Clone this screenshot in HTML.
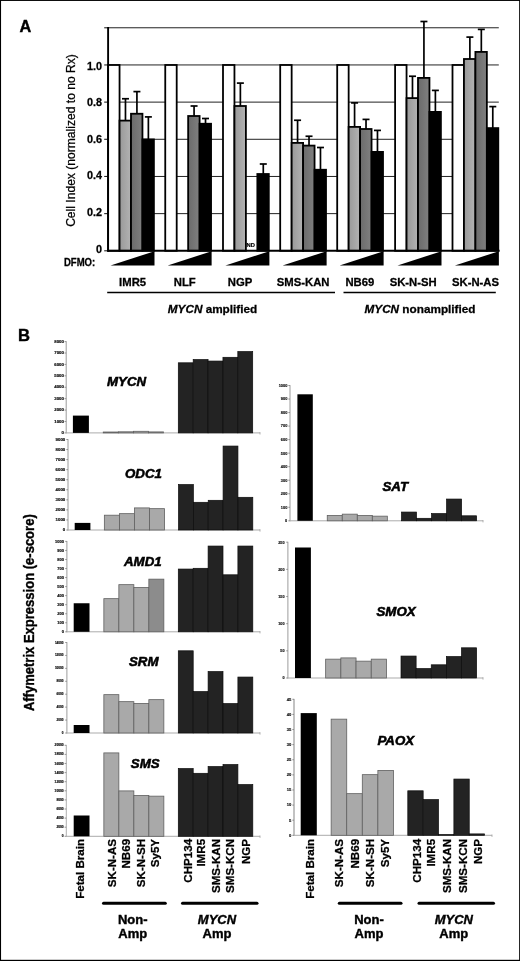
<!DOCTYPE html>
<html><head><meta charset="utf-8"><title>Figure</title>
<style>
html,body{margin:0;padding:0;background:#fff;}
svg{display:block;font-family:"Liberation Sans", Arial, Helvetica, sans-serif;}
</style></head>
<body>
<svg width="520" height="961" viewBox="0 0 520 961">
<rect x="0" y="0" width="520" height="961" fill="#fff"/>
<defs><linearGradient id="glg" x1="0" y1="0" x2="1" y2="0"><stop offset="0" stop-color="#999999"/><stop offset="1" stop-color="#b3b3b3"/></linearGradient><linearGradient id="gdg" x1="0" y1="0" x2="1" y2="0"><stop offset="0" stop-color="#6b6b6b"/><stop offset="1" stop-color="#808080"/></linearGradient></defs>
<line x1="108.10" y1="213.63" x2="498.80" y2="213.63" stroke="#222" stroke-width="1" />
<line x1="108.10" y1="176.46" x2="498.80" y2="176.46" stroke="#222" stroke-width="1" />
<line x1="108.10" y1="139.29" x2="498.80" y2="139.29" stroke="#222" stroke-width="1" />
<line x1="108.10" y1="102.12" x2="498.80" y2="102.12" stroke="#222" stroke-width="1" />
<line x1="108.10" y1="64.95" x2="498.80" y2="64.95" stroke="#222" stroke-width="1" />
<line x1="108.10" y1="27.78" x2="498.80" y2="27.78" stroke="#222" stroke-width="1" />
<line x1="104.20" y1="27.78" x2="108.10" y2="27.78" stroke="#222" stroke-width="1.1" />
<line x1="104.20" y1="250.80" x2="108.10" y2="250.80" stroke="#222" stroke-width="1.1" />
<text x="101.90" y="252.60" font-size="10.8" font-weight="bold" font-style="normal" text-anchor="end" fill="#000"  stroke="#000" stroke-width="0.28">0</text>
<line x1="104.20" y1="213.63" x2="108.10" y2="213.63" stroke="#222" stroke-width="1.1" />
<text x="101.90" y="215.70" font-size="10.8" font-weight="bold" font-style="normal" text-anchor="end" fill="#000"  stroke="#000" stroke-width="0.28">0.2</text>
<line x1="104.20" y1="176.46" x2="108.10" y2="176.46" stroke="#222" stroke-width="1.1" />
<text x="101.90" y="178.50" font-size="10.8" font-weight="bold" font-style="normal" text-anchor="end" fill="#000"  stroke="#000" stroke-width="0.28">0.4</text>
<line x1="104.20" y1="139.29" x2="108.10" y2="139.29" stroke="#222" stroke-width="1.1" />
<text x="101.90" y="143.10" font-size="10.8" font-weight="bold" font-style="normal" text-anchor="end" fill="#000"  stroke="#000" stroke-width="0.28">0.6</text>
<line x1="104.20" y1="102.12" x2="108.10" y2="102.12" stroke="#222" stroke-width="1.1" />
<text x="101.90" y="105.60" font-size="10.8" font-weight="bold" font-style="normal" text-anchor="end" fill="#000"  stroke="#000" stroke-width="0.28">0.8</text>
<line x1="104.20" y1="64.95" x2="108.10" y2="64.95" stroke="#222" stroke-width="1.1" />
<text x="101.90" y="70.25" font-size="10.8" font-weight="bold" font-style="normal" text-anchor="end" fill="#000"  stroke="#000" stroke-width="0.28">1.0</text>
<text x="246.60" y="246.70" font-size="5.8" font-weight="bold" font-style="normal" text-anchor="start" fill="#000"  stroke="#000" stroke-width="0.2">ND</text>
<rect x="108.10" y="65.00" width="11.45" height="185.80" fill="#fff" stroke="#000" stroke-width="1.8"/>
<rect x="119.55" y="120.60" width="11.45" height="130.20" fill="url(#glg)" stroke="#000" stroke-width="1.8"/>
<rect x="131.00" y="113.75" width="11.45" height="137.05" fill="url(#gdg)" stroke="#000" stroke-width="1.8"/>
<rect x="142.45" y="139.40" width="11.45" height="111.40" fill="#000" stroke="#000" stroke-width="1.8"/>
<line x1="125.47" y1="98.75" x2="125.47" y2="120.60" stroke="#000" stroke-width="1.7" />
<line x1="121.97" y1="98.75" x2="128.97" y2="98.75" stroke="#000" stroke-width="1.7" />
<line x1="136.92" y1="91.60" x2="136.92" y2="113.75" stroke="#000" stroke-width="1.7" />
<line x1="133.42" y1="91.60" x2="140.42" y2="91.60" stroke="#000" stroke-width="1.7" />
<line x1="148.37" y1="116.90" x2="148.37" y2="139.40" stroke="#000" stroke-width="1.7" />
<line x1="144.87" y1="116.90" x2="151.87" y2="116.90" stroke="#000" stroke-width="1.7" />
<rect x="165.25" y="65.00" width="11.45" height="185.80" fill="#fff" stroke="#000" stroke-width="1.8"/>
<rect x="188.15" y="116.00" width="11.45" height="134.80" fill="url(#gdg)" stroke="#000" stroke-width="1.8"/>
<rect x="199.60" y="123.75" width="11.45" height="127.05" fill="#000" stroke="#000" stroke-width="1.8"/>
<line x1="194.07" y1="106.00" x2="194.07" y2="116.00" stroke="#000" stroke-width="1.7" />
<line x1="190.57" y1="106.00" x2="197.57" y2="106.00" stroke="#000" stroke-width="1.7" />
<line x1="205.52" y1="118.50" x2="205.52" y2="123.75" stroke="#000" stroke-width="1.7" />
<line x1="202.02" y1="118.50" x2="209.02" y2="118.50" stroke="#000" stroke-width="1.7" />
<rect x="223.00" y="65.00" width="11.45" height="185.80" fill="#fff" stroke="#000" stroke-width="1.8"/>
<rect x="234.45" y="106.00" width="11.45" height="144.80" fill="url(#glg)" stroke="#000" stroke-width="1.8"/>
<rect x="257.35" y="174.00" width="11.45" height="76.80" fill="#000" stroke="#000" stroke-width="1.8"/>
<line x1="240.37" y1="83.10" x2="240.37" y2="106.00" stroke="#000" stroke-width="1.7" />
<line x1="236.87" y1="83.10" x2="243.87" y2="83.10" stroke="#000" stroke-width="1.7" />
<line x1="263.28" y1="164.00" x2="263.28" y2="174.00" stroke="#000" stroke-width="1.7" />
<line x1="259.78" y1="164.00" x2="266.78" y2="164.00" stroke="#000" stroke-width="1.7" />
<rect x="280.20" y="65.00" width="11.45" height="185.80" fill="#fff" stroke="#000" stroke-width="1.8"/>
<rect x="291.65" y="142.90" width="11.45" height="107.90" fill="url(#glg)" stroke="#000" stroke-width="1.8"/>
<rect x="303.10" y="145.60" width="11.45" height="105.20" fill="url(#gdg)" stroke="#000" stroke-width="1.8"/>
<rect x="314.55" y="169.75" width="11.45" height="81.05" fill="#000" stroke="#000" stroke-width="1.8"/>
<line x1="297.57" y1="120.25" x2="297.57" y2="142.90" stroke="#000" stroke-width="1.7" />
<line x1="294.07" y1="120.25" x2="301.07" y2="120.25" stroke="#000" stroke-width="1.7" />
<line x1="309.02" y1="136.25" x2="309.02" y2="145.60" stroke="#000" stroke-width="1.7" />
<line x1="305.52" y1="136.25" x2="312.52" y2="136.25" stroke="#000" stroke-width="1.7" />
<line x1="320.47" y1="147.50" x2="320.47" y2="169.75" stroke="#000" stroke-width="1.7" />
<line x1="316.97" y1="147.50" x2="323.97" y2="147.50" stroke="#000" stroke-width="1.7" />
<rect x="337.20" y="65.00" width="11.45" height="185.80" fill="#fff" stroke="#000" stroke-width="1.8"/>
<rect x="348.65" y="126.90" width="11.45" height="123.90" fill="url(#glg)" stroke="#000" stroke-width="1.8"/>
<rect x="360.10" y="129.00" width="11.45" height="121.80" fill="url(#gdg)" stroke="#000" stroke-width="1.8"/>
<rect x="371.55" y="151.90" width="11.45" height="98.90" fill="#000" stroke="#000" stroke-width="1.8"/>
<line x1="354.57" y1="102.90" x2="354.57" y2="126.90" stroke="#000" stroke-width="1.7" />
<line x1="351.07" y1="102.90" x2="358.07" y2="102.90" stroke="#000" stroke-width="1.7" />
<line x1="366.02" y1="119.40" x2="366.02" y2="129.00" stroke="#000" stroke-width="1.7" />
<line x1="362.52" y1="119.40" x2="369.52" y2="119.40" stroke="#000" stroke-width="1.7" />
<line x1="377.47" y1="130.40" x2="377.47" y2="151.90" stroke="#000" stroke-width="1.7" />
<line x1="373.97" y1="130.40" x2="380.97" y2="130.40" stroke="#000" stroke-width="1.7" />
<rect x="395.10" y="65.00" width="11.45" height="185.80" fill="#fff" stroke="#000" stroke-width="1.8"/>
<rect x="406.55" y="98.10" width="11.45" height="152.70" fill="url(#glg)" stroke="#000" stroke-width="1.8"/>
<rect x="418.00" y="77.90" width="11.45" height="172.90" fill="url(#gdg)" stroke="#000" stroke-width="1.8"/>
<rect x="429.45" y="111.90" width="11.45" height="138.90" fill="#000" stroke="#000" stroke-width="1.8"/>
<line x1="412.48" y1="76.25" x2="412.48" y2="98.10" stroke="#000" stroke-width="1.7" />
<line x1="408.98" y1="76.25" x2="415.98" y2="76.25" stroke="#000" stroke-width="1.7" />
<line x1="423.93" y1="21.50" x2="423.93" y2="77.90" stroke="#000" stroke-width="1.7" />
<line x1="420.43" y1="21.50" x2="427.43" y2="21.50" stroke="#000" stroke-width="1.7" />
<line x1="435.38" y1="90.40" x2="435.38" y2="111.90" stroke="#000" stroke-width="1.7" />
<line x1="431.88" y1="90.40" x2="438.88" y2="90.40" stroke="#000" stroke-width="1.7" />
<rect x="452.50" y="65.00" width="11.45" height="185.80" fill="#fff" stroke="#000" stroke-width="1.8"/>
<rect x="463.95" y="59.00" width="11.45" height="191.80" fill="url(#glg)" stroke="#000" stroke-width="1.8"/>
<rect x="475.40" y="51.90" width="11.45" height="198.90" fill="url(#gdg)" stroke="#000" stroke-width="1.8"/>
<rect x="486.85" y="128.10" width="11.45" height="122.70" fill="#000" stroke="#000" stroke-width="1.8"/>
<line x1="469.88" y1="37.10" x2="469.88" y2="59.00" stroke="#000" stroke-width="1.7" />
<line x1="466.38" y1="37.10" x2="473.38" y2="37.10" stroke="#000" stroke-width="1.7" />
<line x1="481.32" y1="29.40" x2="481.32" y2="51.90" stroke="#000" stroke-width="1.7" />
<line x1="477.82" y1="29.40" x2="484.82" y2="29.40" stroke="#000" stroke-width="1.7" />
<line x1="492.78" y1="106.60" x2="492.78" y2="128.10" stroke="#000" stroke-width="1.7" />
<line x1="489.28" y1="106.60" x2="496.28" y2="106.60" stroke="#000" stroke-width="1.7" />
<line x1="108.10" y1="27.00" x2="108.10" y2="251.70" stroke="#000" stroke-width="1.9" />
<line x1="107.60" y1="250.80" x2="499.60" y2="250.80" stroke="#000" stroke-width="1.9" />
<polygon points="110.50,265.6 154.50,251.2 154.50,265.6" fill="#000"/>
<polygon points="167.65,265.6 211.65,251.2 211.65,265.6" fill="#000"/>
<polygon points="225.40,265.6 269.40,251.2 269.40,265.6" fill="#000"/>
<polygon points="282.60,265.6 326.60,251.2 326.60,265.6" fill="#000"/>
<polygon points="339.60,265.6 383.60,251.2 383.60,265.6" fill="#000"/>
<polygon points="397.50,265.6 441.50,251.2 441.50,265.6" fill="#000"/>
<polygon points="454.90,265.6 498.90,251.2 498.90,265.6" fill="#000"/>
<text x="64.00" y="265.50" font-size="10.3" font-weight="bold" font-style="normal" text-anchor="start" fill="#000" textLength="31.2" lengthAdjust="spacingAndGlyphs" stroke="#000" stroke-width="0.28">DFMO:</text>
<text x="132.60" y="286.40" font-size="11.3" font-weight="bold" font-style="normal" text-anchor="middle" fill="#000"  stroke="#000" stroke-width="0.28">IMR5</text>
<text x="184.75" y="286.40" font-size="11.3" font-weight="bold" font-style="normal" text-anchor="middle" fill="#000"  stroke="#000" stroke-width="0.28">NLF</text>
<text x="240.00" y="286.40" font-size="11.3" font-weight="bold" font-style="normal" text-anchor="middle" fill="#000"  stroke="#000" stroke-width="0.28">NGP</text>
<text x="303.10" y="286.40" font-size="11.3" font-weight="bold" font-style="normal" text-anchor="middle" fill="#000"  stroke="#000" stroke-width="0.28">SMS-KAN</text>
<text x="359.90" y="286.40" font-size="11.3" font-weight="bold" font-style="normal" text-anchor="middle" fill="#000"  stroke="#000" stroke-width="0.28">NB69</text>
<text x="413.20" y="286.40" font-size="11.3" font-weight="bold" font-style="normal" text-anchor="middle" fill="#000"  stroke="#000" stroke-width="0.28">SK-N-SH</text>
<text x="475.50" y="286.40" font-size="11.3" font-weight="bold" font-style="normal" text-anchor="middle" fill="#000"  stroke="#000" stroke-width="0.28">SK-N-AS</text>
<line x1="107.20" y1="292.60" x2="335.00" y2="292.60" stroke="#000" stroke-width="1.5" />
<line x1="343.50" y1="292.60" x2="495.80" y2="292.60" stroke="#000" stroke-width="1.5" />
<text x="212.5" y="313.3" font-size="11.75" font-weight="bold" stroke="#000" stroke-width="0.28" text-anchor="middle"><tspan font-style="italic">MYCN</tspan> amplified</text>
<text x="420" y="313.3" font-size="11.75" font-weight="bold" stroke="#000" stroke-width="0.28" text-anchor="middle"><tspan font-style="italic">MYCN</tspan> nonamplified</text>
<text x="74.80" y="140.50" font-size="12.1" font-weight="normal" font-style="normal" text-anchor="middle" fill="#000" transform="rotate(-90 74.80 140.50)"  stroke="#000" stroke-width="0.25">Cell Index (normalized to no Rx)</text>
<text x="19.60" y="32.00" font-size="16.3" font-weight="bold" font-style="normal" text-anchor="start" fill="#000"  stroke="#000" stroke-width="0.4">A</text>
<text x="18.00" y="340.50" font-size="16.6" font-weight="bold" font-style="normal" text-anchor="start" fill="#000"  stroke="#000" stroke-width="0.4">B</text>
<text transform="translate(33.8,612.7) rotate(-90) scale(0.945,1)" font-size="13.8" font-weight="bold" text-anchor="middle" stroke="#000" stroke-width="0.35">Affymetrix Expression (e-score)</text>
<line x1="66.20" y1="341.20" x2="66.20" y2="433.40" stroke="#9c9c9c" stroke-width="1.0" />
<line x1="66.20" y1="432.90" x2="260.00" y2="432.90" stroke="#ababab" stroke-width="1" />
<line x1="260.00" y1="432.10" x2="260.00" y2="434.50" stroke="#a0a0a0" stroke-width="0.8" />
<line x1="64.50" y1="432.90" x2="66.20" y2="432.90" stroke="#808080" stroke-width="0.8" />
<text x="63.90" y="434.05" font-size="3.2" font-weight="bold" font-style="normal" text-anchor="end" fill="#111" textLength="2.40" lengthAdjust="spacingAndGlyphs" stroke="#111" stroke-width="0.15">0</text>
<line x1="64.50" y1="421.49" x2="66.20" y2="421.49" stroke="#808080" stroke-width="0.8" />
<text x="63.90" y="422.64" font-size="3.2" font-weight="bold" font-style="normal" text-anchor="end" fill="#111" textLength="9.60" lengthAdjust="spacingAndGlyphs" stroke="#111" stroke-width="0.15">1000</text>
<line x1="64.50" y1="410.07" x2="66.20" y2="410.07" stroke="#808080" stroke-width="0.8" />
<text x="63.90" y="411.23" font-size="3.2" font-weight="bold" font-style="normal" text-anchor="end" fill="#111" textLength="9.60" lengthAdjust="spacingAndGlyphs" stroke="#111" stroke-width="0.15">2000</text>
<line x1="64.50" y1="398.66" x2="66.20" y2="398.66" stroke="#808080" stroke-width="0.8" />
<text x="63.90" y="399.81" font-size="3.2" font-weight="bold" font-style="normal" text-anchor="end" fill="#111" textLength="9.60" lengthAdjust="spacingAndGlyphs" stroke="#111" stroke-width="0.15">3000</text>
<line x1="64.50" y1="387.25" x2="66.20" y2="387.25" stroke="#808080" stroke-width="0.8" />
<text x="63.90" y="388.40" font-size="3.2" font-weight="bold" font-style="normal" text-anchor="end" fill="#111" textLength="9.60" lengthAdjust="spacingAndGlyphs" stroke="#111" stroke-width="0.15">4000</text>
<line x1="64.50" y1="375.84" x2="66.20" y2="375.84" stroke="#808080" stroke-width="0.8" />
<text x="63.90" y="376.99" font-size="3.2" font-weight="bold" font-style="normal" text-anchor="end" fill="#111" textLength="9.60" lengthAdjust="spacingAndGlyphs" stroke="#111" stroke-width="0.15">5000</text>
<line x1="64.50" y1="364.43" x2="66.20" y2="364.43" stroke="#808080" stroke-width="0.8" />
<text x="63.90" y="365.58" font-size="3.2" font-weight="bold" font-style="normal" text-anchor="end" fill="#111" textLength="9.60" lengthAdjust="spacingAndGlyphs" stroke="#111" stroke-width="0.15">6000</text>
<line x1="64.50" y1="353.01" x2="66.20" y2="353.01" stroke="#808080" stroke-width="0.8" />
<text x="63.90" y="354.16" font-size="3.2" font-weight="bold" font-style="normal" text-anchor="end" fill="#111" textLength="9.60" lengthAdjust="spacingAndGlyphs" stroke="#111" stroke-width="0.15">7000</text>
<line x1="64.50" y1="341.60" x2="66.20" y2="341.60" stroke="#808080" stroke-width="0.8" />
<text x="63.90" y="342.75" font-size="3.2" font-weight="bold" font-style="normal" text-anchor="end" fill="#111" textLength="9.60" lengthAdjust="spacingAndGlyphs" stroke="#111" stroke-width="0.15">8000</text>
<rect x="72.90" y="415.60" width="16.00" height="17.30" fill="#000"/>
<rect x="103.25" y="432.00" width="15.08" height="0.90" fill="#a9a9a9" stroke="#606060" stroke-width="0.8"/>
<rect x="118.33" y="431.80" width="15.08" height="1.10" fill="#a9a9a9" stroke="#606060" stroke-width="0.8"/>
<rect x="133.40" y="431.30" width="15.08" height="1.60" fill="#a9a9a9" stroke="#606060" stroke-width="0.8"/>
<rect x="148.47" y="431.90" width="15.08" height="1.00" fill="#a9a9a9" stroke="#606060" stroke-width="0.8"/>
<rect x="178.30" y="362.80" width="14.88" height="70.10" fill="#232323" stroke="#0c0c0c" stroke-width="0.7"/>
<rect x="193.18" y="359.55" width="14.88" height="73.35" fill="#232323" stroke="#0c0c0c" stroke-width="0.7"/>
<rect x="208.06" y="361.05" width="14.88" height="71.85" fill="#232323" stroke="#0c0c0c" stroke-width="0.7"/>
<rect x="222.94" y="357.30" width="14.88" height="75.60" fill="#232323" stroke="#0c0c0c" stroke-width="0.7"/>
<rect x="237.82" y="351.55" width="14.88" height="81.35" fill="#232323" stroke="#0c0c0c" stroke-width="0.7"/>
<text x="107.00" y="386.30" font-size="13.3" font-weight="bold" font-style="italic" text-anchor="start" fill="#000"  stroke="#000" stroke-width="0.55">MYCN</text>
<line x1="68.00" y1="439.10" x2="68.00" y2="530.50" stroke="#9c9c9c" stroke-width="1.0" />
<line x1="68.00" y1="530.00" x2="260.00" y2="530.00" stroke="#ababab" stroke-width="1" />
<line x1="260.00" y1="529.20" x2="260.00" y2="531.60" stroke="#a0a0a0" stroke-width="0.8" />
<line x1="66.30" y1="530.00" x2="68.00" y2="530.00" stroke="#808080" stroke-width="0.8" />
<text x="65.20" y="531.15" font-size="3.2" font-weight="bold" font-style="normal" text-anchor="end" fill="#111" textLength="2.40" lengthAdjust="spacingAndGlyphs" stroke="#111" stroke-width="0.15">0</text>
<line x1="66.30" y1="519.94" x2="68.00" y2="519.94" stroke="#808080" stroke-width="0.8" />
<text x="65.20" y="521.10" font-size="3.2" font-weight="bold" font-style="normal" text-anchor="end" fill="#111" textLength="9.60" lengthAdjust="spacingAndGlyphs" stroke="#111" stroke-width="0.15">1000</text>
<line x1="66.30" y1="509.89" x2="68.00" y2="509.89" stroke="#808080" stroke-width="0.8" />
<text x="65.20" y="511.04" font-size="3.2" font-weight="bold" font-style="normal" text-anchor="end" fill="#111" textLength="9.60" lengthAdjust="spacingAndGlyphs" stroke="#111" stroke-width="0.15">2000</text>
<line x1="66.30" y1="499.83" x2="68.00" y2="499.83" stroke="#808080" stroke-width="0.8" />
<text x="65.20" y="500.99" font-size="3.2" font-weight="bold" font-style="normal" text-anchor="end" fill="#111" textLength="9.60" lengthAdjust="spacingAndGlyphs" stroke="#111" stroke-width="0.15">3000</text>
<line x1="66.30" y1="489.78" x2="68.00" y2="489.78" stroke="#808080" stroke-width="0.8" />
<text x="65.20" y="490.93" font-size="3.2" font-weight="bold" font-style="normal" text-anchor="end" fill="#111" textLength="9.60" lengthAdjust="spacingAndGlyphs" stroke="#111" stroke-width="0.15">4000</text>
<line x1="66.30" y1="479.72" x2="68.00" y2="479.72" stroke="#808080" stroke-width="0.8" />
<text x="65.20" y="480.87" font-size="3.2" font-weight="bold" font-style="normal" text-anchor="end" fill="#111" textLength="9.60" lengthAdjust="spacingAndGlyphs" stroke="#111" stroke-width="0.15">5000</text>
<line x1="66.30" y1="469.67" x2="68.00" y2="469.67" stroke="#808080" stroke-width="0.8" />
<text x="65.20" y="470.82" font-size="3.2" font-weight="bold" font-style="normal" text-anchor="end" fill="#111" textLength="9.60" lengthAdjust="spacingAndGlyphs" stroke="#111" stroke-width="0.15">6000</text>
<line x1="66.30" y1="459.61" x2="68.00" y2="459.61" stroke="#808080" stroke-width="0.8" />
<text x="65.20" y="460.76" font-size="3.2" font-weight="bold" font-style="normal" text-anchor="end" fill="#111" textLength="9.60" lengthAdjust="spacingAndGlyphs" stroke="#111" stroke-width="0.15">7000</text>
<line x1="66.30" y1="449.56" x2="68.00" y2="449.56" stroke="#808080" stroke-width="0.8" />
<text x="65.20" y="450.71" font-size="3.2" font-weight="bold" font-style="normal" text-anchor="end" fill="#111" textLength="9.60" lengthAdjust="spacingAndGlyphs" stroke="#111" stroke-width="0.15">8000</text>
<line x1="66.30" y1="439.50" x2="68.00" y2="439.50" stroke="#808080" stroke-width="0.8" />
<text x="65.20" y="440.65" font-size="3.2" font-weight="bold" font-style="normal" text-anchor="end" fill="#111" textLength="9.60" lengthAdjust="spacingAndGlyphs" stroke="#111" stroke-width="0.15">9000</text>
<rect x="74.70" y="522.90" width="15.70" height="7.10" fill="#000"/>
<rect x="104.35" y="515.20" width="15.05" height="14.80" fill="#a9a9a9" stroke="#606060" stroke-width="0.8"/>
<rect x="119.40" y="513.65" width="15.05" height="16.35" fill="#a9a9a9" stroke="#606060" stroke-width="0.8"/>
<rect x="134.45" y="507.90" width="15.05" height="22.10" fill="#a9a9a9" stroke="#606060" stroke-width="0.8"/>
<rect x="149.50" y="508.65" width="15.05" height="21.35" fill="#a9a9a9" stroke="#606060" stroke-width="0.8"/>
<rect x="178.50" y="484.55" width="14.86" height="45.45" fill="#232323" stroke="#0c0c0c" stroke-width="0.7"/>
<rect x="193.36" y="502.30" width="14.86" height="27.70" fill="#232323" stroke="#0c0c0c" stroke-width="0.7"/>
<rect x="208.22" y="500.30" width="14.86" height="29.70" fill="#232323" stroke="#0c0c0c" stroke-width="0.7"/>
<rect x="223.08" y="446.05" width="14.86" height="83.95" fill="#232323" stroke="#0c0c0c" stroke-width="0.7"/>
<rect x="237.94" y="497.30" width="14.86" height="32.70" fill="#232323" stroke="#0c0c0c" stroke-width="0.7"/>
<text x="125.00" y="478.00" font-size="13.3" font-weight="bold" font-style="italic" text-anchor="start" fill="#000"  stroke="#000" stroke-width="0.55">ODC1</text>
<line x1="66.90" y1="541.00" x2="66.90" y2="632.30" stroke="#9c9c9c" stroke-width="1.0" />
<line x1="66.90" y1="631.80" x2="260.00" y2="631.80" stroke="#ababab" stroke-width="1" />
<line x1="260.00" y1="631.00" x2="260.00" y2="633.40" stroke="#a0a0a0" stroke-width="0.8" />
<line x1="65.20" y1="631.80" x2="66.90" y2="631.80" stroke="#808080" stroke-width="0.8" />
<text x="63.90" y="632.92" font-size="3.1" font-weight="bold" font-style="normal" text-anchor="end" fill="#111" textLength="2.20" lengthAdjust="spacingAndGlyphs" stroke="#111" stroke-width="0.15">0</text>
<line x1="65.20" y1="622.76" x2="66.90" y2="622.76" stroke="#808080" stroke-width="0.8" />
<text x="63.90" y="623.88" font-size="3.1" font-weight="bold" font-style="normal" text-anchor="end" fill="#111" textLength="6.60" lengthAdjust="spacingAndGlyphs" stroke="#111" stroke-width="0.15">100</text>
<line x1="65.20" y1="613.72" x2="66.90" y2="613.72" stroke="#808080" stroke-width="0.8" />
<text x="63.90" y="614.84" font-size="3.1" font-weight="bold" font-style="normal" text-anchor="end" fill="#111" textLength="6.60" lengthAdjust="spacingAndGlyphs" stroke="#111" stroke-width="0.15">200</text>
<line x1="65.20" y1="604.68" x2="66.90" y2="604.68" stroke="#808080" stroke-width="0.8" />
<text x="63.90" y="605.80" font-size="3.1" font-weight="bold" font-style="normal" text-anchor="end" fill="#111" textLength="6.60" lengthAdjust="spacingAndGlyphs" stroke="#111" stroke-width="0.15">300</text>
<line x1="65.20" y1="595.64" x2="66.90" y2="595.64" stroke="#808080" stroke-width="0.8" />
<text x="63.90" y="596.76" font-size="3.1" font-weight="bold" font-style="normal" text-anchor="end" fill="#111" textLength="6.60" lengthAdjust="spacingAndGlyphs" stroke="#111" stroke-width="0.15">400</text>
<line x1="65.20" y1="586.60" x2="66.90" y2="586.60" stroke="#808080" stroke-width="0.8" />
<text x="63.90" y="587.72" font-size="3.1" font-weight="bold" font-style="normal" text-anchor="end" fill="#111" textLength="6.60" lengthAdjust="spacingAndGlyphs" stroke="#111" stroke-width="0.15">500</text>
<line x1="65.20" y1="577.56" x2="66.90" y2="577.56" stroke="#808080" stroke-width="0.8" />
<text x="63.90" y="578.68" font-size="3.1" font-weight="bold" font-style="normal" text-anchor="end" fill="#111" textLength="6.60" lengthAdjust="spacingAndGlyphs" stroke="#111" stroke-width="0.15">600</text>
<line x1="65.20" y1="568.52" x2="66.90" y2="568.52" stroke="#808080" stroke-width="0.8" />
<text x="63.90" y="569.64" font-size="3.1" font-weight="bold" font-style="normal" text-anchor="end" fill="#111" textLength="6.60" lengthAdjust="spacingAndGlyphs" stroke="#111" stroke-width="0.15">700</text>
<line x1="65.20" y1="559.48" x2="66.90" y2="559.48" stroke="#808080" stroke-width="0.8" />
<text x="63.90" y="560.60" font-size="3.1" font-weight="bold" font-style="normal" text-anchor="end" fill="#111" textLength="6.60" lengthAdjust="spacingAndGlyphs" stroke="#111" stroke-width="0.15">800</text>
<line x1="65.20" y1="550.44" x2="66.90" y2="550.44" stroke="#808080" stroke-width="0.8" />
<text x="63.90" y="551.56" font-size="3.1" font-weight="bold" font-style="normal" text-anchor="end" fill="#111" textLength="6.60" lengthAdjust="spacingAndGlyphs" stroke="#111" stroke-width="0.15">900</text>
<line x1="65.20" y1="541.40" x2="66.90" y2="541.40" stroke="#808080" stroke-width="0.8" />
<text x="63.90" y="542.52" font-size="3.1" font-weight="bold" font-style="normal" text-anchor="end" fill="#111" textLength="8.80" lengthAdjust="spacingAndGlyphs" stroke="#111" stroke-width="0.15">1000</text>
<rect x="73.70" y="603.25" width="15.80" height="28.55" fill="#000"/>
<rect x="103.85" y="598.65" width="15.00" height="33.15" fill="#a9a9a9" stroke="#606060" stroke-width="0.8"/>
<rect x="118.85" y="584.65" width="15.00" height="47.15" fill="#a9a9a9" stroke="#606060" stroke-width="0.8"/>
<rect x="133.85" y="587.40" width="15.00" height="44.40" fill="#a9a9a9" stroke="#606060" stroke-width="0.8"/>
<rect x="148.85" y="579.15" width="15.00" height="52.65" fill="#8c8c8c" stroke="#606060" stroke-width="0.8"/>
<rect x="178.30" y="569.05" width="14.90" height="62.75" fill="#232323" stroke="#0c0c0c" stroke-width="0.7"/>
<rect x="193.20" y="568.30" width="14.90" height="63.50" fill="#232323" stroke="#0c0c0c" stroke-width="0.7"/>
<rect x="208.10" y="546.05" width="14.90" height="85.75" fill="#232323" stroke="#0c0c0c" stroke-width="0.7"/>
<rect x="223.00" y="574.80" width="14.90" height="57.00" fill="#232323" stroke="#0c0c0c" stroke-width="0.7"/>
<rect x="237.90" y="546.05" width="14.90" height="85.75" fill="#232323" stroke="#0c0c0c" stroke-width="0.7"/>
<text x="124.00" y="565.60" font-size="13.3" font-weight="bold" font-style="italic" text-anchor="start" fill="#000"  stroke="#000" stroke-width="0.55">AMD1</text>
<line x1="66.90" y1="642.10" x2="66.90" y2="733.50" stroke="#9c9c9c" stroke-width="1.0" />
<line x1="66.90" y1="733.00" x2="260.00" y2="733.00" stroke="#ababab" stroke-width="1" />
<line x1="260.00" y1="732.20" x2="260.00" y2="734.60" stroke="#a0a0a0" stroke-width="0.8" />
<line x1="65.20" y1="733.00" x2="66.90" y2="733.00" stroke="#808080" stroke-width="0.8" />
<text x="63.50" y="734.01" font-size="2.8" font-weight="bold" font-style="normal" text-anchor="end" fill="#111" textLength="1.72" lengthAdjust="spacingAndGlyphs" stroke="#111" stroke-width="0.15">0</text>
<line x1="65.20" y1="720.07" x2="66.90" y2="720.07" stroke="#808080" stroke-width="0.8" />
<text x="63.50" y="721.08" font-size="2.8" font-weight="bold" font-style="normal" text-anchor="end" fill="#111" textLength="6.88" lengthAdjust="spacingAndGlyphs" stroke="#111" stroke-width="0.15">2000</text>
<line x1="65.20" y1="707.14" x2="66.90" y2="707.14" stroke="#808080" stroke-width="0.8" />
<text x="63.50" y="708.15" font-size="2.8" font-weight="bold" font-style="normal" text-anchor="end" fill="#111" textLength="6.88" lengthAdjust="spacingAndGlyphs" stroke="#111" stroke-width="0.15">4000</text>
<line x1="65.20" y1="694.21" x2="66.90" y2="694.21" stroke="#808080" stroke-width="0.8" />
<text x="63.50" y="695.22" font-size="2.8" font-weight="bold" font-style="normal" text-anchor="end" fill="#111" textLength="6.88" lengthAdjust="spacingAndGlyphs" stroke="#111" stroke-width="0.15">6000</text>
<line x1="65.20" y1="681.29" x2="66.90" y2="681.29" stroke="#808080" stroke-width="0.8" />
<text x="63.50" y="682.29" font-size="2.8" font-weight="bold" font-style="normal" text-anchor="end" fill="#111" textLength="6.88" lengthAdjust="spacingAndGlyphs" stroke="#111" stroke-width="0.15">8000</text>
<line x1="65.20" y1="668.36" x2="66.90" y2="668.36" stroke="#808080" stroke-width="0.8" />
<text x="63.50" y="669.37" font-size="2.8" font-weight="bold" font-style="normal" text-anchor="end" fill="#111" textLength="8.60" lengthAdjust="spacingAndGlyphs" stroke="#111" stroke-width="0.15">10000</text>
<line x1="65.20" y1="655.43" x2="66.90" y2="655.43" stroke="#808080" stroke-width="0.8" />
<text x="63.50" y="656.44" font-size="2.8" font-weight="bold" font-style="normal" text-anchor="end" fill="#111" textLength="8.60" lengthAdjust="spacingAndGlyphs" stroke="#111" stroke-width="0.15">12000</text>
<line x1="65.20" y1="642.50" x2="66.90" y2="642.50" stroke="#808080" stroke-width="0.8" />
<text x="63.50" y="643.51" font-size="2.8" font-weight="bold" font-style="normal" text-anchor="end" fill="#111" textLength="8.60" lengthAdjust="spacingAndGlyphs" stroke="#111" stroke-width="0.15">14000</text>
<rect x="73.70" y="725.00" width="15.80" height="8.00" fill="#000"/>
<rect x="103.85" y="694.65" width="15.00" height="38.35" fill="#a9a9a9" stroke="#606060" stroke-width="0.8"/>
<rect x="118.85" y="701.65" width="15.00" height="31.35" fill="#a9a9a9" stroke="#606060" stroke-width="0.8"/>
<rect x="133.85" y="703.40" width="15.00" height="29.60" fill="#a9a9a9" stroke="#606060" stroke-width="0.8"/>
<rect x="148.85" y="699.65" width="15.00" height="33.35" fill="#a9a9a9" stroke="#606060" stroke-width="0.8"/>
<rect x="178.30" y="650.80" width="14.90" height="82.20" fill="#232323" stroke="#0c0c0c" stroke-width="0.7"/>
<rect x="193.20" y="691.55" width="14.90" height="41.45" fill="#232323" stroke="#0c0c0c" stroke-width="0.7"/>
<rect x="208.10" y="671.55" width="14.90" height="61.45" fill="#232323" stroke="#0c0c0c" stroke-width="0.7"/>
<rect x="223.00" y="703.55" width="14.90" height="29.45" fill="#232323" stroke="#0c0c0c" stroke-width="0.7"/>
<rect x="237.90" y="677.05" width="14.90" height="55.95" fill="#232323" stroke="#0c0c0c" stroke-width="0.7"/>
<text x="129.00" y="665.60" font-size="13.3" font-weight="bold" font-style="italic" text-anchor="start" fill="#000"  stroke="#000" stroke-width="0.55">SRM</text>
<line x1="66.30" y1="744.90" x2="66.30" y2="836.80" stroke="#b0b0b0" stroke-width="1.0" />
<line x1="66.30" y1="836.30" x2="260.00" y2="836.30" stroke="#ababab" stroke-width="1" />
<line x1="260.00" y1="835.50" x2="260.00" y2="837.90" stroke="#a0a0a0" stroke-width="0.8" />
<line x1="64.60" y1="836.30" x2="66.30" y2="836.30" stroke="#808080" stroke-width="0.8" />
<text x="63.60" y="837.31" font-size="2.8" font-weight="bold" font-style="normal" text-anchor="end" fill="#111" textLength="1.80" lengthAdjust="spacingAndGlyphs" stroke="#111" stroke-width="0.15">0</text>
<line x1="64.60" y1="827.20" x2="66.30" y2="827.20" stroke="#808080" stroke-width="0.8" />
<text x="63.60" y="828.21" font-size="2.8" font-weight="bold" font-style="normal" text-anchor="end" fill="#111" textLength="7.20" lengthAdjust="spacingAndGlyphs" stroke="#111" stroke-width="0.15">2000</text>
<line x1="64.60" y1="818.10" x2="66.30" y2="818.10" stroke="#808080" stroke-width="0.8" />
<text x="63.60" y="819.11" font-size="2.8" font-weight="bold" font-style="normal" text-anchor="end" fill="#111" textLength="7.20" lengthAdjust="spacingAndGlyphs" stroke="#111" stroke-width="0.15">4000</text>
<line x1="64.60" y1="809.00" x2="66.30" y2="809.00" stroke="#808080" stroke-width="0.8" />
<text x="63.60" y="810.01" font-size="2.8" font-weight="bold" font-style="normal" text-anchor="end" fill="#111" textLength="7.20" lengthAdjust="spacingAndGlyphs" stroke="#111" stroke-width="0.15">6000</text>
<line x1="64.60" y1="799.90" x2="66.30" y2="799.90" stroke="#808080" stroke-width="0.8" />
<text x="63.60" y="800.91" font-size="2.8" font-weight="bold" font-style="normal" text-anchor="end" fill="#111" textLength="7.20" lengthAdjust="spacingAndGlyphs" stroke="#111" stroke-width="0.15">8000</text>
<line x1="64.60" y1="790.80" x2="66.30" y2="790.80" stroke="#808080" stroke-width="0.8" />
<text x="63.60" y="791.81" font-size="2.8" font-weight="bold" font-style="normal" text-anchor="end" fill="#111" textLength="9.00" lengthAdjust="spacingAndGlyphs" stroke="#111" stroke-width="0.15">10000</text>
<line x1="64.60" y1="781.70" x2="66.30" y2="781.70" stroke="#808080" stroke-width="0.8" />
<text x="63.60" y="782.71" font-size="2.8" font-weight="bold" font-style="normal" text-anchor="end" fill="#111" textLength="9.00" lengthAdjust="spacingAndGlyphs" stroke="#111" stroke-width="0.15">12000</text>
<line x1="64.60" y1="772.60" x2="66.30" y2="772.60" stroke="#808080" stroke-width="0.8" />
<text x="63.60" y="773.61" font-size="2.8" font-weight="bold" font-style="normal" text-anchor="end" fill="#111" textLength="9.00" lengthAdjust="spacingAndGlyphs" stroke="#111" stroke-width="0.15">14000</text>
<line x1="64.60" y1="763.50" x2="66.30" y2="763.50" stroke="#808080" stroke-width="0.8" />
<text x="63.60" y="764.51" font-size="2.8" font-weight="bold" font-style="normal" text-anchor="end" fill="#111" textLength="9.00" lengthAdjust="spacingAndGlyphs" stroke="#111" stroke-width="0.15">16000</text>
<line x1="64.60" y1="754.40" x2="66.30" y2="754.40" stroke="#808080" stroke-width="0.8" />
<text x="63.60" y="755.41" font-size="2.8" font-weight="bold" font-style="normal" text-anchor="end" fill="#111" textLength="9.00" lengthAdjust="spacingAndGlyphs" stroke="#111" stroke-width="0.15">18000</text>
<line x1="64.60" y1="745.30" x2="66.30" y2="745.30" stroke="#808080" stroke-width="0.8" />
<text x="63.60" y="746.31" font-size="2.8" font-weight="bold" font-style="normal" text-anchor="end" fill="#111" textLength="9.00" lengthAdjust="spacingAndGlyphs" stroke="#111" stroke-width="0.15">20000</text>
<rect x="73.70" y="815.50" width="15.80" height="20.80" fill="#000"/>
<rect x="103.85" y="752.90" width="15.00" height="83.40" fill="#a9a9a9" stroke="#606060" stroke-width="0.8"/>
<rect x="118.85" y="790.90" width="15.00" height="45.40" fill="#a9a9a9" stroke="#606060" stroke-width="0.8"/>
<rect x="133.85" y="795.40" width="15.00" height="40.90" fill="#a9a9a9" stroke="#606060" stroke-width="0.8"/>
<rect x="148.85" y="796.15" width="15.00" height="40.15" fill="#a9a9a9" stroke="#606060" stroke-width="0.8"/>
<rect x="178.30" y="768.55" width="14.90" height="67.75" fill="#232323" stroke="#0c0c0c" stroke-width="0.7"/>
<rect x="193.20" y="773.30" width="14.90" height="63.00" fill="#232323" stroke="#0c0c0c" stroke-width="0.7"/>
<rect x="208.10" y="766.55" width="14.90" height="69.75" fill="#232323" stroke="#0c0c0c" stroke-width="0.7"/>
<rect x="223.00" y="764.55" width="14.90" height="71.75" fill="#232323" stroke="#0c0c0c" stroke-width="0.7"/>
<rect x="237.90" y="784.55" width="14.90" height="51.75" fill="#232323" stroke="#0c0c0c" stroke-width="0.7"/>
<text x="130.80" y="767.60" font-size="13.3" font-weight="bold" font-style="italic" text-anchor="start" fill="#000"  stroke="#000" stroke-width="0.55">SMS</text>
<line x1="290.00" y1="385.10" x2="290.00" y2="521.30" stroke="#9c9c9c" stroke-width="1.0" />
<line x1="290.00" y1="520.80" x2="483.00" y2="520.80" stroke="#ababab" stroke-width="1" />
<line x1="483.00" y1="520.00" x2="483.00" y2="522.40" stroke="#a0a0a0" stroke-width="0.8" />
<line x1="288.30" y1="520.80" x2="290.00" y2="520.80" stroke="#808080" stroke-width="0.8" />
<text x="287.30" y="522.17" font-size="3.8" font-weight="bold" font-style="normal" text-anchor="end" fill="#111" textLength="2.16" lengthAdjust="spacingAndGlyphs" stroke="#111" stroke-width="0.15">0</text>
<line x1="288.30" y1="507.27" x2="290.00" y2="507.27" stroke="#808080" stroke-width="0.8" />
<text x="287.30" y="508.64" font-size="3.8" font-weight="bold" font-style="normal" text-anchor="end" fill="#111" textLength="6.48" lengthAdjust="spacingAndGlyphs" stroke="#111" stroke-width="0.15">100</text>
<line x1="288.30" y1="493.74" x2="290.00" y2="493.74" stroke="#808080" stroke-width="0.8" />
<text x="287.30" y="495.11" font-size="3.8" font-weight="bold" font-style="normal" text-anchor="end" fill="#111" textLength="6.48" lengthAdjust="spacingAndGlyphs" stroke="#111" stroke-width="0.15">200</text>
<line x1="288.30" y1="480.21" x2="290.00" y2="480.21" stroke="#808080" stroke-width="0.8" />
<text x="287.30" y="481.58" font-size="3.8" font-weight="bold" font-style="normal" text-anchor="end" fill="#111" textLength="6.48" lengthAdjust="spacingAndGlyphs" stroke="#111" stroke-width="0.15">300</text>
<line x1="288.30" y1="466.68" x2="290.00" y2="466.68" stroke="#808080" stroke-width="0.8" />
<text x="287.30" y="468.05" font-size="3.8" font-weight="bold" font-style="normal" text-anchor="end" fill="#111" textLength="6.48" lengthAdjust="spacingAndGlyphs" stroke="#111" stroke-width="0.15">400</text>
<line x1="288.30" y1="453.15" x2="290.00" y2="453.15" stroke="#808080" stroke-width="0.8" />
<text x="287.30" y="454.52" font-size="3.8" font-weight="bold" font-style="normal" text-anchor="end" fill="#111" textLength="6.48" lengthAdjust="spacingAndGlyphs" stroke="#111" stroke-width="0.15">500</text>
<line x1="288.30" y1="439.62" x2="290.00" y2="439.62" stroke="#808080" stroke-width="0.8" />
<text x="287.30" y="440.99" font-size="3.8" font-weight="bold" font-style="normal" text-anchor="end" fill="#111" textLength="6.48" lengthAdjust="spacingAndGlyphs" stroke="#111" stroke-width="0.15">600</text>
<line x1="288.30" y1="426.09" x2="290.00" y2="426.09" stroke="#808080" stroke-width="0.8" />
<text x="287.30" y="427.46" font-size="3.8" font-weight="bold" font-style="normal" text-anchor="end" fill="#111" textLength="6.48" lengthAdjust="spacingAndGlyphs" stroke="#111" stroke-width="0.15">700</text>
<line x1="288.30" y1="412.56" x2="290.00" y2="412.56" stroke="#808080" stroke-width="0.8" />
<text x="287.30" y="413.93" font-size="3.8" font-weight="bold" font-style="normal" text-anchor="end" fill="#111" textLength="6.48" lengthAdjust="spacingAndGlyphs" stroke="#111" stroke-width="0.15">800</text>
<line x1="288.30" y1="399.03" x2="290.00" y2="399.03" stroke="#808080" stroke-width="0.8" />
<text x="287.30" y="400.40" font-size="3.8" font-weight="bold" font-style="normal" text-anchor="end" fill="#111" textLength="6.48" lengthAdjust="spacingAndGlyphs" stroke="#111" stroke-width="0.15">900</text>
<line x1="288.30" y1="385.50" x2="290.00" y2="385.50" stroke="#808080" stroke-width="0.8" />
<text x="287.30" y="386.87" font-size="3.8" font-weight="bold" font-style="normal" text-anchor="end" fill="#111" textLength="8.64" lengthAdjust="spacingAndGlyphs" stroke="#111" stroke-width="0.15">1000</text>
<rect x="297.40" y="394.30" width="15.40" height="126.50" fill="#000"/>
<rect x="327.25" y="515.40" width="15.02" height="5.40" fill="#a9a9a9" stroke="#606060" stroke-width="0.8"/>
<rect x="342.27" y="514.15" width="15.02" height="6.65" fill="#a9a9a9" stroke="#606060" stroke-width="0.8"/>
<rect x="357.30" y="515.40" width="15.02" height="5.40" fill="#a9a9a9" stroke="#606060" stroke-width="0.8"/>
<rect x="372.32" y="516.15" width="15.02" height="4.65" fill="#a9a9a9" stroke="#606060" stroke-width="0.8"/>
<rect x="401.50" y="512.05" width="15.02" height="8.75" fill="#232323" stroke="#0c0c0c" stroke-width="0.7"/>
<rect x="416.52" y="518.30" width="15.02" height="2.50" fill="#232323" stroke="#0c0c0c" stroke-width="0.7"/>
<rect x="431.54" y="513.55" width="15.02" height="7.25" fill="#232323" stroke="#0c0c0c" stroke-width="0.7"/>
<rect x="446.56" y="499.05" width="15.02" height="21.75" fill="#232323" stroke="#0c0c0c" stroke-width="0.7"/>
<rect x="461.58" y="515.80" width="15.02" height="5.00" fill="#232323" stroke="#0c0c0c" stroke-width="0.7"/>
<text x="382.50" y="490.80" font-size="13.3" font-weight="bold" font-style="italic" text-anchor="start" fill="#000"  stroke="#000" stroke-width="0.55">SAT</text>
<line x1="287.90" y1="541.80" x2="287.90" y2="678.50" stroke="#9c9c9c" stroke-width="1.0" />
<line x1="287.90" y1="678.00" x2="483.00" y2="678.00" stroke="#ababab" stroke-width="1" />
<line x1="483.00" y1="677.20" x2="483.00" y2="679.60" stroke="#a0a0a0" stroke-width="0.8" />
<line x1="286.20" y1="678.00" x2="287.90" y2="678.00" stroke="#808080" stroke-width="0.8" />
<text x="284.50" y="679.37" font-size="3.8" font-weight="bold" font-style="normal" text-anchor="end" fill="#111" textLength="2.10" lengthAdjust="spacingAndGlyphs" stroke="#111" stroke-width="0.15">0</text>
<line x1="286.20" y1="650.84" x2="287.90" y2="650.84" stroke="#808080" stroke-width="0.8" />
<text x="284.50" y="652.21" font-size="3.8" font-weight="bold" font-style="normal" text-anchor="end" fill="#111" textLength="4.20" lengthAdjust="spacingAndGlyphs" stroke="#111" stroke-width="0.15">50</text>
<line x1="286.20" y1="623.68" x2="287.90" y2="623.68" stroke="#808080" stroke-width="0.8" />
<text x="284.50" y="625.05" font-size="3.8" font-weight="bold" font-style="normal" text-anchor="end" fill="#111" textLength="6.30" lengthAdjust="spacingAndGlyphs" stroke="#111" stroke-width="0.15">100</text>
<line x1="286.20" y1="596.52" x2="287.90" y2="596.52" stroke="#808080" stroke-width="0.8" />
<text x="284.50" y="597.89" font-size="3.8" font-weight="bold" font-style="normal" text-anchor="end" fill="#111" textLength="6.30" lengthAdjust="spacingAndGlyphs" stroke="#111" stroke-width="0.15">150</text>
<line x1="286.20" y1="569.36" x2="287.90" y2="569.36" stroke="#808080" stroke-width="0.8" />
<text x="284.50" y="570.73" font-size="3.8" font-weight="bold" font-style="normal" text-anchor="end" fill="#111" textLength="6.30" lengthAdjust="spacingAndGlyphs" stroke="#111" stroke-width="0.15">200</text>
<line x1="286.20" y1="542.20" x2="287.90" y2="542.20" stroke="#808080" stroke-width="0.8" />
<text x="284.50" y="543.57" font-size="3.8" font-weight="bold" font-style="normal" text-anchor="end" fill="#111" textLength="6.30" lengthAdjust="spacingAndGlyphs" stroke="#111" stroke-width="0.15">250</text>
<rect x="295.00" y="547.50" width="15.90" height="130.50" fill="#000"/>
<rect x="325.65" y="659.15" width="15.20" height="18.85" fill="#a9a9a9" stroke="#606060" stroke-width="0.8"/>
<rect x="340.85" y="657.90" width="15.20" height="20.10" fill="#a9a9a9" stroke="#606060" stroke-width="0.8"/>
<rect x="356.05" y="661.15" width="15.20" height="16.85" fill="#a9a9a9" stroke="#606060" stroke-width="0.8"/>
<rect x="371.25" y="659.15" width="15.20" height="18.85" fill="#a9a9a9" stroke="#606060" stroke-width="0.8"/>
<rect x="401.00" y="656.05" width="15.12" height="21.95" fill="#232323" stroke="#0c0c0c" stroke-width="0.7"/>
<rect x="416.12" y="668.55" width="15.12" height="9.45" fill="#232323" stroke="#0c0c0c" stroke-width="0.7"/>
<rect x="431.24" y="664.80" width="15.12" height="13.20" fill="#232323" stroke="#0c0c0c" stroke-width="0.7"/>
<rect x="446.36" y="656.55" width="15.12" height="21.45" fill="#232323" stroke="#0c0c0c" stroke-width="0.7"/>
<rect x="461.48" y="647.80" width="15.12" height="30.20" fill="#232323" stroke="#0c0c0c" stroke-width="0.7"/>
<text x="376.50" y="616.30" font-size="13.3" font-weight="bold" font-style="italic" text-anchor="start" fill="#000"  stroke="#000" stroke-width="0.55">SMOX</text>
<line x1="294.00" y1="698.90" x2="294.00" y2="835.80" stroke="#858585" stroke-width="1.0" />
<line x1="294.00" y1="835.30" x2="492.00" y2="835.30" stroke="#ababab" stroke-width="1" />
<line x1="492.00" y1="834.50" x2="492.00" y2="836.90" stroke="#a0a0a0" stroke-width="0.8" />
<line x1="292.30" y1="835.30" x2="294.00" y2="835.30" stroke="#808080" stroke-width="0.8" />
<text x="291.30" y="836.67" font-size="3.8" font-weight="bold" font-style="normal" text-anchor="end" fill="#111" textLength="2.30" lengthAdjust="spacingAndGlyphs" stroke="#111" stroke-width="0.15">0</text>
<line x1="292.30" y1="820.19" x2="294.00" y2="820.19" stroke="#808080" stroke-width="0.8" />
<text x="291.30" y="821.56" font-size="3.8" font-weight="bold" font-style="normal" text-anchor="end" fill="#111" textLength="2.30" lengthAdjust="spacingAndGlyphs" stroke="#111" stroke-width="0.15">5</text>
<line x1="292.30" y1="805.08" x2="294.00" y2="805.08" stroke="#808080" stroke-width="0.8" />
<text x="291.30" y="806.45" font-size="3.8" font-weight="bold" font-style="normal" text-anchor="end" fill="#111" textLength="4.60" lengthAdjust="spacingAndGlyphs" stroke="#111" stroke-width="0.15">10</text>
<line x1="292.30" y1="789.97" x2="294.00" y2="789.97" stroke="#808080" stroke-width="0.8" />
<text x="291.30" y="791.33" font-size="3.8" font-weight="bold" font-style="normal" text-anchor="end" fill="#111" textLength="4.60" lengthAdjust="spacingAndGlyphs" stroke="#111" stroke-width="0.15">15</text>
<line x1="292.30" y1="774.86" x2="294.00" y2="774.86" stroke="#808080" stroke-width="0.8" />
<text x="291.30" y="776.22" font-size="3.8" font-weight="bold" font-style="normal" text-anchor="end" fill="#111" textLength="4.60" lengthAdjust="spacingAndGlyphs" stroke="#111" stroke-width="0.15">20</text>
<line x1="292.30" y1="759.74" x2="294.00" y2="759.74" stroke="#808080" stroke-width="0.8" />
<text x="291.30" y="761.11" font-size="3.8" font-weight="bold" font-style="normal" text-anchor="end" fill="#111" textLength="4.60" lengthAdjust="spacingAndGlyphs" stroke="#111" stroke-width="0.15">25</text>
<line x1="292.30" y1="744.63" x2="294.00" y2="744.63" stroke="#808080" stroke-width="0.8" />
<text x="291.30" y="746.00" font-size="3.8" font-weight="bold" font-style="normal" text-anchor="end" fill="#111" textLength="4.60" lengthAdjust="spacingAndGlyphs" stroke="#111" stroke-width="0.15">30</text>
<line x1="292.30" y1="729.52" x2="294.00" y2="729.52" stroke="#808080" stroke-width="0.8" />
<text x="291.30" y="730.89" font-size="3.8" font-weight="bold" font-style="normal" text-anchor="end" fill="#111" textLength="4.60" lengthAdjust="spacingAndGlyphs" stroke="#111" stroke-width="0.15">35</text>
<line x1="292.30" y1="714.41" x2="294.00" y2="714.41" stroke="#808080" stroke-width="0.8" />
<text x="291.30" y="715.78" font-size="3.8" font-weight="bold" font-style="normal" text-anchor="end" fill="#111" textLength="4.60" lengthAdjust="spacingAndGlyphs" stroke="#111" stroke-width="0.15">40</text>
<line x1="292.30" y1="699.30" x2="294.00" y2="699.30" stroke="#808080" stroke-width="0.8" />
<text x="291.30" y="700.67" font-size="3.8" font-weight="bold" font-style="normal" text-anchor="end" fill="#111" textLength="4.60" lengthAdjust="spacingAndGlyphs" stroke="#111" stroke-width="0.15">45</text>
<rect x="300.70" y="713.10" width="16.10" height="122.20" fill="#000"/>
<rect x="331.15" y="719.15" width="15.58" height="116.15" fill="#a9a9a9" stroke="#606060" stroke-width="0.8"/>
<rect x="346.72" y="793.65" width="15.58" height="41.65" fill="#a9a9a9" stroke="#606060" stroke-width="0.8"/>
<rect x="362.30" y="774.65" width="15.58" height="60.65" fill="#a9a9a9" stroke="#606060" stroke-width="0.8"/>
<rect x="377.88" y="770.40" width="15.58" height="64.90" fill="#a9a9a9" stroke="#606060" stroke-width="0.8"/>
<rect x="407.80" y="790.80" width="15.36" height="44.50" fill="#232323" stroke="#0c0c0c" stroke-width="0.7"/>
<rect x="423.16" y="799.55" width="15.36" height="35.75" fill="#232323" stroke="#0c0c0c" stroke-width="0.7"/>
<rect x="438.52" y="834.60" width="15.36" height="0.70" fill="#232323" stroke="#0c0c0c" stroke-width="0.7"/>
<rect x="453.88" y="779.05" width="15.36" height="56.25" fill="#232323" stroke="#0c0c0c" stroke-width="0.7"/>
<rect x="469.24" y="833.90" width="15.36" height="1.40" fill="#232323" stroke="#0c0c0c" stroke-width="0.7"/>
<text x="377.40" y="745.00" font-size="13.3" font-weight="bold" font-style="italic" text-anchor="start" fill="#000"  stroke="#000" stroke-width="0.55">PAOX</text>
<text x="84.50" y="838.90" font-size="11.6" font-weight="bold" font-style="normal" text-anchor="end" fill="#000" transform="rotate(-90 84.50 838.90)"  stroke="#000" stroke-width="0.28">Fetal Brain</text>
<text x="115.60" y="838.90" font-size="11.6" font-weight="bold" font-style="normal" text-anchor="end" fill="#000" transform="rotate(-90 115.60 838.90)"  stroke="#000" stroke-width="0.28">SK-N-AS</text>
<text x="130.10" y="838.90" font-size="11.6" font-weight="bold" font-style="normal" text-anchor="end" fill="#000" transform="rotate(-90 130.10 838.90)"  stroke="#000" stroke-width="0.28">NB69</text>
<text x="144.80" y="838.90" font-size="11.6" font-weight="bold" font-style="normal" text-anchor="end" fill="#000" transform="rotate(-90 144.80 838.90)"  stroke="#000" stroke-width="0.28">SK-N-SH</text>
<text x="159.50" y="838.90" font-size="11.6" font-weight="bold" font-style="normal" text-anchor="end" fill="#000" transform="rotate(-90 159.50 838.90)"  stroke="#000" stroke-width="0.28">Sy5Y</text>
<text x="191.60" y="838.90" font-size="11.6" font-weight="bold" font-style="normal" text-anchor="end" fill="#000" transform="rotate(-90 191.60 838.90)"  stroke="#000" stroke-width="0.28">CHP134</text>
<text x="205.00" y="838.90" font-size="11.6" font-weight="bold" font-style="normal" text-anchor="end" fill="#000" transform="rotate(-90 205.00 838.90)"  stroke="#000" stroke-width="0.28">IMR5</text>
<text x="219.70" y="838.90" font-size="11.6" font-weight="bold" font-style="normal" text-anchor="end" fill="#000" transform="rotate(-90 219.70 838.90)"  stroke="#000" stroke-width="0.28">SMS-KAN</text>
<text x="234.50" y="838.90" font-size="11.6" font-weight="bold" font-style="normal" text-anchor="end" fill="#000" transform="rotate(-90 234.50 838.90)"  stroke="#000" stroke-width="0.28">SMS-KCN</text>
<text x="250.20" y="838.90" font-size="11.6" font-weight="bold" font-style="normal" text-anchor="end" fill="#000" transform="rotate(-90 250.20 838.90)"  stroke="#000" stroke-width="0.28">NGP</text>
<text x="313.70" y="838.90" font-size="11.6" font-weight="bold" font-style="normal" text-anchor="end" fill="#000" transform="rotate(-90 313.70 838.90)"  stroke="#000" stroke-width="0.28">Fetal Brain</text>
<text x="343.30" y="838.90" font-size="11.6" font-weight="bold" font-style="normal" text-anchor="end" fill="#000" transform="rotate(-90 343.30 838.90)"  stroke="#000" stroke-width="0.28">SK-N-AS</text>
<text x="358.60" y="838.90" font-size="11.6" font-weight="bold" font-style="normal" text-anchor="end" fill="#000" transform="rotate(-90 358.60 838.90)"  stroke="#000" stroke-width="0.28">NB69</text>
<text x="374.00" y="838.90" font-size="11.6" font-weight="bold" font-style="normal" text-anchor="end" fill="#000" transform="rotate(-90 374.00 838.90)"  stroke="#000" stroke-width="0.28">SK-N-SH</text>
<text x="389.20" y="838.90" font-size="11.6" font-weight="bold" font-style="normal" text-anchor="end" fill="#000" transform="rotate(-90 389.20 838.90)"  stroke="#000" stroke-width="0.28">Sy5Y</text>
<text x="420.70" y="838.90" font-size="11.6" font-weight="bold" font-style="normal" text-anchor="end" fill="#000" transform="rotate(-90 420.70 838.90)"  stroke="#000" stroke-width="0.28">CHP134</text>
<text x="435.20" y="838.90" font-size="11.6" font-weight="bold" font-style="normal" text-anchor="end" fill="#000" transform="rotate(-90 435.20 838.90)"  stroke="#000" stroke-width="0.28">IMR5</text>
<text x="451.40" y="838.90" font-size="11.6" font-weight="bold" font-style="normal" text-anchor="end" fill="#000" transform="rotate(-90 451.40 838.90)"  stroke="#000" stroke-width="0.28">SMS-KAN</text>
<text x="467.20" y="838.90" font-size="11.6" font-weight="bold" font-style="normal" text-anchor="end" fill="#000" transform="rotate(-90 467.20 838.90)"  stroke="#000" stroke-width="0.28">SMS-KCN</text>
<text x="482.20" y="838.90" font-size="11.6" font-weight="bold" font-style="normal" text-anchor="end" fill="#000" transform="rotate(-90 482.20 838.90)"  stroke="#000" stroke-width="0.28">NGP</text>
<line x1="103.50" y1="903.30" x2="165.30" y2="903.30" stroke="#000" stroke-width="3" stroke-linecap="round"/>
<line x1="182.50" y1="903.30" x2="257.00" y2="903.30" stroke="#000" stroke-width="3" stroke-linecap="round"/>
<line x1="339.30" y1="903.30" x2="401.00" y2="903.30" stroke="#000" stroke-width="3" stroke-linecap="round"/>
<line x1="419.00" y1="903.30" x2="493.50" y2="903.30" stroke="#000" stroke-width="3" stroke-linecap="round"/>
<text x="132.70" y="924.20" font-size="13" font-weight="bold" font-style="normal" text-anchor="middle" fill="#000"  stroke="#000" stroke-width="0.4">Non-</text>
<text x="132.70" y="938.00" font-size="13" font-weight="bold" font-style="normal" text-anchor="middle" fill="#000"  stroke="#000" stroke-width="0.4">Amp</text>
<text x="369.00" y="924.20" font-size="13" font-weight="bold" font-style="normal" text-anchor="middle" fill="#000"  stroke="#000" stroke-width="0.4">Non-</text>
<text x="369.00" y="938.00" font-size="13" font-weight="bold" font-style="normal" text-anchor="middle" fill="#000"  stroke="#000" stroke-width="0.4">Amp</text>
<text x="217.00" y="924.00" font-size="13" font-weight="bold" font-style="italic" text-anchor="middle" fill="#000"  stroke="#000" stroke-width="0.4">MYCN</text>
<text x="217.00" y="938.00" font-size="13" font-weight="bold" font-style="normal" text-anchor="middle" fill="#000"  stroke="#000" stroke-width="0.4">Amp</text>
<text x="453.80" y="924.00" font-size="13" font-weight="bold" font-style="italic" text-anchor="middle" fill="#000"  stroke="#000" stroke-width="0.4">MYCN</text>
<text x="453.80" y="938.00" font-size="13" font-weight="bold" font-style="normal" text-anchor="middle" fill="#000"  stroke="#000" stroke-width="0.4">Amp</text>
<rect x="0.00" y="0.00" width="520.00" height="0.95" fill="#000"/>
<rect x="0.00" y="0.00" width="1.05" height="961.00" fill="#000"/>
<rect x="519.15" y="0.00" width="0.85" height="961.00" fill="#000"/>
<rect x="0.00" y="959.80" width="520.00" height="1.20" fill="#000"/>
</svg>
</body></html>
